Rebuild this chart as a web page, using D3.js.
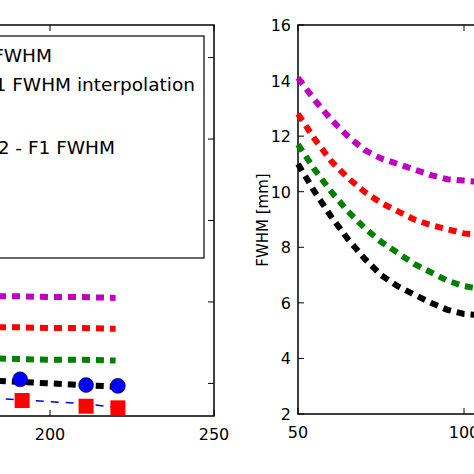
<!DOCTYPE html>
<html><head><meta charset="utf-8">
<script src="https://cdn.jsdelivr.net/npm/d3@7"></script>
<style>body{margin:0;background:#fff}text{font-family:"DejaVu Sans",sans-serif}</style>
</head><body>
<script>
'use strict';

// left panel
const leftX = [150, 160, 170, 180, 190, 200, 210, 220];
const leftMagenta = [3.1, 3.09, 3.08, 3.07, 3.07, 3.06, 3.06, 3.05];
const leftRed = [2.72, 2.71, 2.7, 2.69, 2.69, 2.68, 2.68, 2.67];
const leftGreen = [2.34, 2.33, 2.32, 2.31, 2.3, 2.29, 2.29, 2.28];
const leftBlack = [2.1, 2.08, 2.06, 2.04, 2.02, 2.0, 1.98, 1.96];
const blueLineX = [150, 190, 211, 221];
const blueLineY = [1.9, 1.8, 1.75, 1.7];
const circleX = [190.9, 211, 220.7];
const circleY = [2.05, 1.98, 1.97];
const squareX = [191.5, 211, 220.7];
const squareY = [1.79, 1.72, 1.7];
const legendLabels = ['F1 FWHM', 'F1 FWHM interpolation', 'F2 - F1 FWHM'];

// right panel
const rightX = [50, 55, 60, 65, 70, 75, 80, 85, 90, 95, 100, 105];
const rightMagenta = [14.1, 13.3, 12.6, 12.0, 11.5, 11.2, 11.0, 10.8, 10.6, 10.45, 10.4, 10.35];
const rightRed = [12.8, 11.9, 11.1, 10.5, 10.0, 9.6, 9.3, 9.0, 8.8, 8.65, 8.5, 8.45];
const rightGreen = [11.7, 10.8, 10.0, 9.3, 8.7, 8.2, 7.8, 7.4, 7.1, 6.8, 6.6, 6.5];
const rightBlack = [11.0, 10.0, 9.1, 8.3, 7.6, 7.0, 6.6, 6.3, 6.0, 5.75, 5.6, 5.55];
const rightYTicks = [2, 4, 6, 8, 10, 12, 14, 16];

const colors = {magenta: '#bf00bf', red: '#ff0000', green: '#008000', black: '#000000'};

const svg = d3.select('body').append('svg').attr('width', 474).attr('height', 474);

function frame(g, x0, x1, y0, y1) {
  g.append('rect').attr('x', x0).attr('y', y0).attr('width', x1 - x0).attr('height', y1 - y0)
    .attr('fill', 'none').attr('stroke', '#000').attr('stroke-width', 1.5);
}

function dashed(g, xs, ys, x, y, color) {
  const line = d3.line().x((d, i) => x(xs[i])).y(d => y(d));
  g.append('path').datum(ys).attr('d', line).attr('fill', 'none')
    .attr('stroke', color).attr('stroke-width', 6).attr('stroke-dasharray', '8,6');
}

// ---- left
const lx = d3.scaleLinear().domain([50, 250]).range([-442, 214]);
const ly = d3.scaleLinear().domain([1.6, 6.4]).range([416, 25]);
const lg = svg.append('g');
frame(lg, -442, 214, 25, 416);
[200, 250].forEach(t => {
  lg.append('line').attr('x1', lx(t)).attr('x2', lx(t)).attr('y1', 416).attr('y2', 410).attr('stroke', '#000');
  lg.append('line').attr('x1', lx(t)).attr('x2', lx(t)).attr('y1', 25).attr('y2', 31).attr('stroke', '#000');
  lg.append('text').attr('x', lx(t)).attr('y', 440).attr('text-anchor', 'middle').attr('font-size', 16).text(t);
});
[2, 3, 4, 5, 6].forEach(t => {
  lg.append('line').attr('x1', 214).attr('x2', 208).attr('y1', ly(t)).attr('y2', ly(t)).attr('stroke', '#000');
});
dashed(lg, leftX, leftMagenta, lx, ly, colors.magenta);
dashed(lg, leftX, leftRed, lx, ly, colors.red);
dashed(lg, leftX, leftGreen, lx, ly, colors.green);
dashed(lg, leftX, leftBlack, lx, ly, colors.black);
lg.append('path').datum(blueLineY)
  .attr('d', d3.line().x((d, i) => lx(blueLineX[i])).y(d => ly(d)))
  .attr('fill', 'none').attr('stroke', '#0000ff').attr('stroke-width', 1.5).attr('stroke-dasharray', '8,7');
lg.selectAll('circle').data(circleY).enter().append('circle')
  .attr('cx', (d, i) => lx(circleX[i])).attr('cy', d => ly(d)).attr('r', 7.5)
  .attr('fill', '#0000ff').attr('stroke', '#000').attr('stroke-width', 0.5);
lg.selectAll('rect.sq').data(squareY).enter().append('rect').attr('class', 'sq')
  .attr('x', (d, i) => lx(squareX[i]) - 7.5).attr('y', d => ly(d) - 7.5)
  .attr('width', 15).attr('height', 15).attr('fill', '#ff0000');

// legend
lg.append('rect').attr('x', -300).attr('y', 36).attr('width', 504).attr('height', 222)
  .attr('fill', '#fff').attr('stroke', '#000').attr('stroke-width', 1.2);
const legendEnds = [52, 195, 115];
const legendYs = [62, 91, 154];
legendLabels.forEach((t, i) => {
  lg.append('text').attr('x', legendEnds[i]).attr('y', legendYs[i]).attr('text-anchor', 'end')
    .attr('font-size', 18.5).text(t);
});

// ---- right
const rx = d3.scaleLinear().domain([50, 100]).range([298, 464]);
const ry = d3.scaleLinear().domain([2, 16]).range([414, 25]);
const rg = svg.append('g');
frame(rg, 298, 700, 25, 414);
rightYTicks.forEach(t => {
  rg.append('line').attr('x1', 298).attr('x2', 304).attr('y1', ry(t)).attr('y2', ry(t)).attr('stroke', '#000');
  rg.append('text').attr('x', 291).attr('y', ry(t) + 6).attr('text-anchor', 'end').attr('font-size', 16).text(t);
});
[50, 100].forEach(t => {
  rg.append('line').attr('x1', rx(t)).attr('x2', rx(t)).attr('y1', 414).attr('y2', 408).attr('stroke', '#000');
  rg.append('line').attr('x1', rx(t)).attr('x2', rx(t)).attr('y1', 25).attr('y2', 31).attr('stroke', '#000');
  rg.append('text').attr('x', rx(t)).attr('y', 438).attr('text-anchor', 'middle').attr('font-size', 16).text(t);
});
rg.append('text').attr('transform', 'translate(268,220) rotate(-90)').attr('text-anchor', 'middle')
  .attr('font-size', 15).text('FWHM [mm]');
dashed(rg, rightX, rightMagenta, rx, ry, colors.magenta);
dashed(rg, rightX, rightRed, rx, ry, colors.red);
dashed(rg, rightX, rightGreen, rx, ry, colors.green);
dashed(rg, rightX, rightBlack, rx, ry, colors.black);
</script>
</body></html>
